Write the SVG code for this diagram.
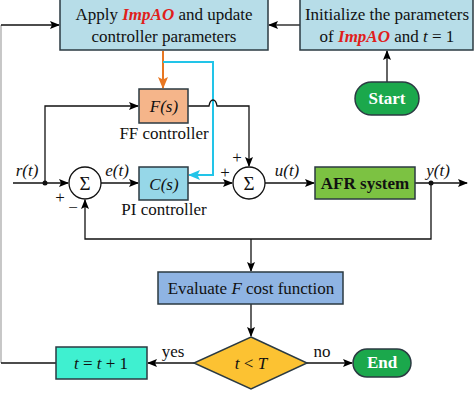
<svg xmlns="http://www.w3.org/2000/svg" width="474" height="402" viewBox="0 0 474 402" font-family="'Liberation Serif', 'DejaVu Serif', serif">
<defs>
<marker id="ah" markerWidth="10" markerHeight="8" refX="9" refY="4" orient="auto" markerUnits="userSpaceOnUse"><path d="M0,0 L10,4 L0,8 L2,4 Z" fill="#000"/></marker>
<marker id="ahO" markerWidth="12" markerHeight="10" refX="11" refY="5" orient="auto" markerUnits="userSpaceOnUse"><path d="M0,0 L12,5 L0,10 L2.5,5 Z" fill="#e87722"/></marker>
<marker id="ahC" markerWidth="12" markerHeight="10" refX="11" refY="5" orient="auto" markerUnits="userSpaceOnUse"><path d="M0,0 L12,5 L0,10 L2.5,5 Z" fill="#22c4e8"/></marker>
<style>
text{fill:#111;}
.t{font-size:17px;text-anchor:middle;}
.m{font-style:italic;}
.red{fill:#e0201b;font-weight:bold;font-style:italic;}
.w{fill:#fff;font-weight:bold;font-size:17px;text-anchor:middle;}
.box{stroke:#2b3a42;stroke-width:1.5;}
.ln{fill:none;stroke:#111;stroke-width:1.3;}
.sum{fill:#fff;stroke:#111;stroke-width:1.3;}
</style>
</defs>
<rect width="474" height="402" fill="#fff"/>
<g id="connectors">
<path class="ln" d="M1,363 V25" style="stroke:#aaa"/>
<path class="ln" d="M1,25 H59" marker-end="url(#ah)"/>
<path class="ln" d="M300,25 H269" marker-end="url(#ah)"/>
<path class="ln" d="M387,82 V51" marker-end="url(#ah)"/>
<path d="M163,51 V88" fill="none" stroke="#e87722" stroke-width="2" marker-end="url(#ahO)"/>
<path d="M163,62 H213 V175 H189" fill="none" stroke="#22c4e8" stroke-width="2" marker-end="url(#ahC)"/>
<path class="ln" d="M13,183 H68" marker-end="url(#ah)"/>
<path class="ln" d="M45,183 V106 H138" marker-end="url(#ah)"/>
<path class="ln" d="M101,183 H138" marker-end="url(#ah)"/>
<path class="ln" d="M188,106 H209 Q210,100 213,100 Q216,100 217,106 H249 V166" marker-end="url(#ah)"/>
<path class="ln" d="M188,183 H232" marker-end="url(#ah)"/>
<path class="ln" d="M265,183 H314" marker-end="url(#ah)"/>
<path class="ln" d="M415,183 H467" marker-end="url(#ah)"/>
<path class="ln" d="M431,183 V239 H85 V200" marker-end="url(#ah)"/>
<path class="ln" d="M251,239 V271" marker-end="url(#ah)"/>
<path class="ln" d="M251,304 V336" marker-end="url(#ah)"/>
<path class="ln" d="M194,363 H148" marker-end="url(#ah)"/>
<path class="ln" d="M307,363 H352" marker-end="url(#ah)"/>
<path class="ln" d="M56,363 H1"/>
<circle cx="45" cy="183" r="2.5" fill="#111"/>
<circle cx="431" cy="183" r="2.5" fill="#111"/>
</g>
<g id="apply">
<rect class="box" x="60" y="-1" width="208" height="51" fill="#b7dde8"/>
<text class="t" x="164" y="20">Apply <tspan class="red">ImpAO</tspan> and update</text>
<text class="t" x="164" y="42">controller parameters</text>
</g>
<g id="init">
<rect class="box" x="300" y="-1" width="173" height="51" fill="#b7dde8"/>
<text class="t" x="387" y="20">Initialize the parameters</text>
<text class="t" x="387" y="42">of <tspan class="red">ImpAO</tspan> and <tspan class="m">t</tspan> = 1</text>
</g>
<g id="start">
<rect class="box" x="355" y="82" width="64" height="33" rx="16.5" fill="#1ba84c"/>
<text class="w" x="387" y="104">Start</text>
</g>
<g id="ff">
<rect class="box" x="139" y="89" width="49" height="34" fill="#f5b58a"/>
<text class="t m" x="164" y="112">F(s)</text>
<text class="t" x="164" y="139">FF controller</text>
</g>
<g id="pi">
<rect class="box" x="139" y="167" width="49" height="33" fill="#96d7e8"/>
<text class="t m" x="164" y="190">C(s)</text>
<text class="t" x="164" y="215">PI controller</text>
</g>
<g id="sum1">
<circle class="sum" cx="85" cy="183" r="16"/>
<text class="t" x="85" y="190" style="font-size:19px">Σ</text>
<text class="t" x="60" y="203">+</text>
<text class="t" x="73" y="213">−</text>
<text class="t m" x="27" y="176">r(t)</text>
<text class="t m" x="117" y="176">e(t)</text>
</g>
<g id="sum2">
<circle class="sum" cx="249" cy="183" r="16"/>
<text class="t" x="249" y="190" style="font-size:19px">Σ</text>
<text class="t" x="237" y="163">+</text>
<text class="t" x="225" y="178">+</text>
<text class="t m" x="287" y="176">u(t)</text>
</g>
<g id="afr">
<rect class="box" x="315" y="167" width="100" height="32" fill="#7cc242"/>
<text class="t" x="365" y="189" font-weight="bold">AFR system</text>
<text class="t m" x="438" y="176">y(t)</text>
</g>
<g id="evaluate">
<rect class="box" x="158" y="272" width="185" height="32" fill="#8fb4e3"/>
<text class="t" x="251" y="294">Evaluate <tspan class="m">F</tspan> cost function</text>
</g>
<g id="decision">
<polygon class="box" points="251,337 307,363 251,389 194,363" fill="#fcc232"/>
<text class="t" x="251" y="369"><tspan class="m">t</tspan> &lt; <tspan class="m">T</tspan></text>
<text class="t" x="173" y="357">yes</text>
<text class="t" x="322" y="357">no</text>
</g>
<g id="inc">
<rect class="box" x="56" y="347" width="91" height="32" fill="#3ff0d0"/>
<text class="t" x="101" y="369"><tspan class="m">t</tspan> = <tspan class="m">t</tspan> + 1</text>
</g>
<g id="end">
<rect class="box" x="353" y="349" width="58" height="28" rx="14" fill="#1ba84c"/>
<text class="w" x="382" y="368">End</text>
</g>
</svg>
